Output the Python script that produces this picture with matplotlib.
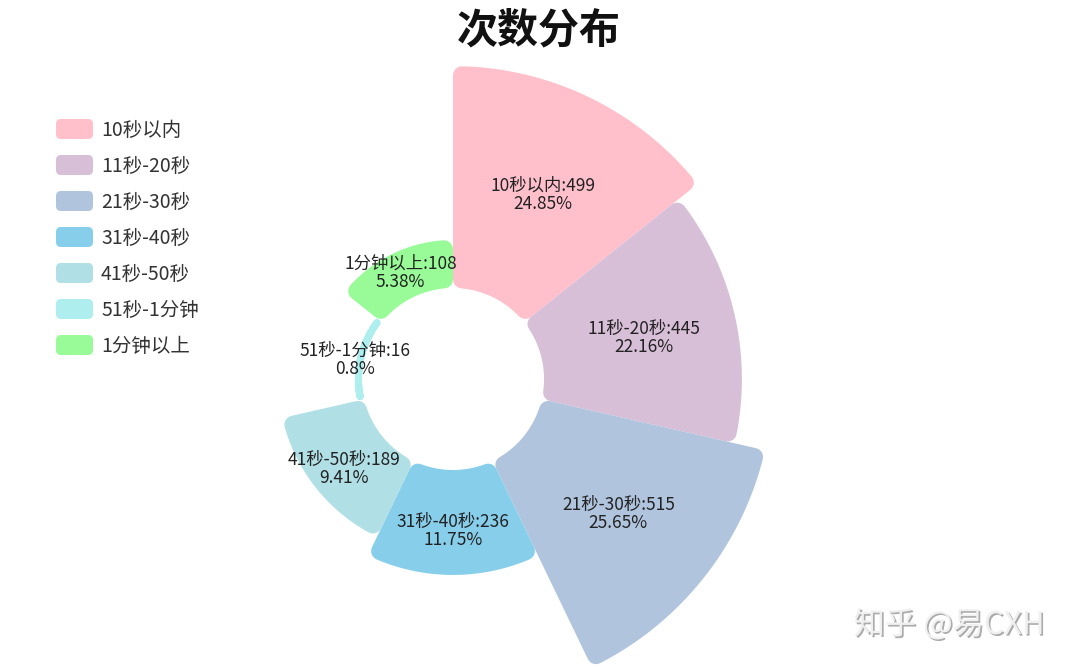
import numpy as np
import matplotlib
matplotlib.use("Agg")
import matplotlib.pyplot as plt
from matplotlib.patches import Polygon, FancyBboxPatch
import matplotlib.patheffects as pe

plt.rcParams['font.family'] = ['Noto Sans CJK SC', 'DejaVu Sans']

# ---- data ----
categories = ['10秒以内', '11秒-20秒', '21秒-30秒', '31秒-40秒', '41秒-50秒', '51秒-1分钟', '1分钟以上']
values = [499, 445, 515, 236, 189, 16, 108]
colors = ['#FFC0CB', '#D8BFD8', '#B0C4DE', '#87CEEB', '#B0E0E6', '#AFEEEE', '#98FB98']
title = '次数分布'
watermark = '知乎 @易CXH'

# ---- layout (pixels) ----
W, H, DPI = 1077, 670, 100
cx, cy = 453, 379
r_in, r_out = 91, 320
corner = 9

fig = plt.figure(figsize=(W / DPI, H / DPI), dpi=DPI)
ax = fig.add_axes([0, 0, 1, 1])
ax.set_xlim(0, W)
ax.set_ylim(H, 0)
ax.axis('off')

total = sum(values)
vmax = max(values)
n = len(values)
step = 2 * np.pi / n


def pt(r, a):
    return (cx + r * np.sin(a), cy - r * np.cos(a))


for i, (cat, v, c) in enumerate(zip(categories, values, colors)):
    a1, a2 = i * step, (i + 1) * step
    r = r_in + (r_out - r_in) * v / vmax
    rc = min(corner, (r - r_in) / 2.0)
    ro, ri = r - rc, r_in + rc
    da_o = np.arcsin(rc / ro)
    da_i = np.arcsin(rc / ri)
    ao = np.linspace(a1 + da_o, a2 - da_o, 80)
    ai = np.linspace(a2 - da_i, a1 + da_i, 80)
    verts = [pt(ro, a) for a in ao] + [pt(ri, a) for a in ai]
    lw = 2 * rc * 72.0 / DPI
    ax.add_patch(Polygon(verts, closed=True, facecolor=c, edgecolor=c,
                         linewidth=lw, joinstyle='round', zorder=2))
    # label
    am = (a1 + a2) / 2
    rl = (r_in + r) / 2 + 6
    lx, ly = pt(rl, am)
    ly += 3
    p = v / total * 100
    ptxt = ('%.2f' % p).rstrip('0').rstrip('.')
    ax.text(lx, ly - 9, f'{cat}:{v}', ha='center', va='center',
            fontsize=12.5, color='#222222', zorder=3)
    ax.text(lx, ly + 9, f'{ptxt}%', ha='center', va='center',
            fontsize=12.5, color='#222222', zorder=3)

# ---- legend ----
for i, (cat, c) in enumerate(zip(categories, colors)):
    yc = 129 + 36 * i
    ax.add_patch(FancyBboxPatch((56, yc - 10), 37, 20,
                                boxstyle='round,pad=0,rounding_size=5',
                                facecolor=c, edgecolor='none'))
    ax.text(101, yc + 2, cat, ha='left', va='center', fontsize=14, color='#333333')

# ---- title ----
ax.text(W / 2, 30, title, ha='center', va='center', fontsize=29.5,
        fontweight='bold', color='#111111')

# ---- watermark ----
ax.text(949, 625, watermark, ha='center', va='center', fontsize=22.5,
        color='#f0f0f0',
        path_effects=[pe.SimplePatchShadow(offset=(1.2, -1.2), shadow_rgbFace='#888888', alpha=0.7),
                      pe.Normal()])

fig.savefig('out.png', dpi=DPI)
